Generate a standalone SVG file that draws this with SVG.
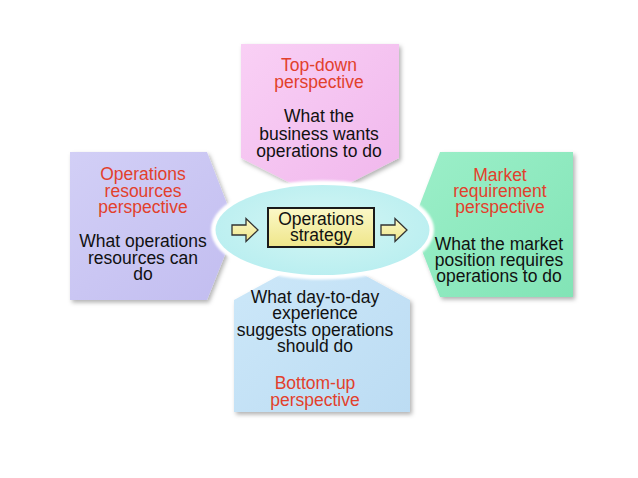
<svg xmlns="http://www.w3.org/2000/svg" width="638" height="478" viewBox="0 0 638 478">
<defs>
<style>
.t{font-family:"Liberation Sans",Arial,sans-serif;font-size:17.5px;text-anchor:middle;fill:#111}
.r{fill:#e2402c}
.arrow{fill:url(#gy);stroke:#333;stroke-width:1.3}
</style>
<filter id="sh" x="-10%" y="-10%" width="130%" height="130%">
<feDropShadow dx="2" dy="2.5" stdDeviation="2" flood-color="#000" flood-opacity="0.3"/>
</filter>
<filter id="glow" x="-10%" y="-20%" width="120%" height="140%">
<feGaussianBlur stdDeviation="1.2"/>
</filter>
<linearGradient id="gp" x1="0" y1="0" x2="1" y2="1"><stop offset="0" stop-color="#f9d0f5"/><stop offset="1" stop-color="#f0b6ec"/></linearGradient>
<linearGradient id="gl" x1="0" y1="0" x2="1" y2="1"><stop offset="0" stop-color="#d2cff6"/><stop offset="1" stop-color="#c2bdf0"/></linearGradient>
<linearGradient id="gg" x1="0" y1="0" x2="1" y2="1"><stop offset="0" stop-color="#9cefc9"/><stop offset="1" stop-color="#82e4b6"/></linearGradient>
<linearGradient id="gb" x1="0" y1="0" x2="1" y2="1"><stop offset="0" stop-color="#cde8f9"/><stop offset="1" stop-color="#bcdcf3"/></linearGradient>
<radialGradient id="ge" cx="0.5" cy="0.45" r="0.6"><stop offset="0" stop-color="#d4f6f4"/><stop offset="1" stop-color="#b8eef0"/></radialGradient>
<linearGradient id="gy" x1="0" y1="0" x2="0" y2="1"><stop offset="0" stop-color="#fbf8c8"/><stop offset="1" stop-color="#efe68a"/></linearGradient>
</defs>
<rect width="638" height="478" fill="#ffffff"/>

<g id="node-top">
<polygon points="241,44 399,44 399,158 320,198 241,158" fill="url(#gp)" filter="url(#sh)"/>
<text class="t r" x="319" y="71">Top-down</text>
<text class="t r" x="319" y="88">perspective</text>
<text class="t" x="319" y="122">What the</text>
<text class="t" x="319" y="139.5">business wants</text>
<text class="t" x="319" y="157">operations to do</text>
</g>

<g id="node-left">
<polygon points="70,152 207,152 236,227 207,300 70,300" fill="url(#gl)" filter="url(#sh)"/>
<text class="t r" x="143" y="180">Operations</text>
<text class="t r" x="143" y="196.5">resources</text>
<text class="t r" x="143" y="213">perspective</text>
<text class="t" x="143" y="247">What operations</text>
<text class="t" x="143" y="263.5">resources can</text>
<text class="t" x="143" y="280">do</text>
</g>

<g id="node-right">
<polygon points="440,152 573,152 573,297 440,297 412,225" fill="url(#gg)" filter="url(#sh)"/>
<text class="t r" x="500" y="181">Market</text>
<text class="t r" x="500" y="197">requirement</text>
<text class="t r" x="500" y="213">perspective</text>
<text class="t" x="499" y="250">What the market</text>
<text class="t" x="499" y="266">position requires</text>
<text class="t" x="499" y="282">operations to do</text>
</g>

<g id="node-bottom">
<polygon points="234,300 322,252 410,300 410,412 234,412" fill="url(#gb)" filter="url(#sh)"/>
<text class="t" x="315" y="303">What day-to-day</text>
<text class="t" x="315" y="319">experience</text>
<text class="t" x="315" y="335.5">suggests operations</text>
<text class="t" x="315" y="352">should do</text>
<text class="t r" x="315" y="389">Bottom-up</text>
<text class="t r" x="315" y="405.5">perspective</text>
</g>

<g id="node-center">
<ellipse cx="322.5" cy="230" rx="107" ry="45" fill="#ffffff" stroke="#ffffff" stroke-width="9" filter="url(#glow)"/>
<ellipse cx="322.5" cy="230" rx="107" ry="45" fill="url(#ge)"/>
<rect x="268" y="208" width="106" height="39" fill="url(#gy)" stroke="#1a1a1a" stroke-width="2"/>
<text class="t" x="321" y="224.5">Operations</text>
<text class="t" x="321" y="241">strategy</text>
</g>

<g id="connectors">
<polygon class="arrow" points="232,225 246,225 246,218.5 258,230 246,241.5 246,235 232,235"/>
<polygon class="arrow" points="381,225 395,225 395,218.5 407,230 395,241.5 395,235 381,235"/>
</g>
</svg>
